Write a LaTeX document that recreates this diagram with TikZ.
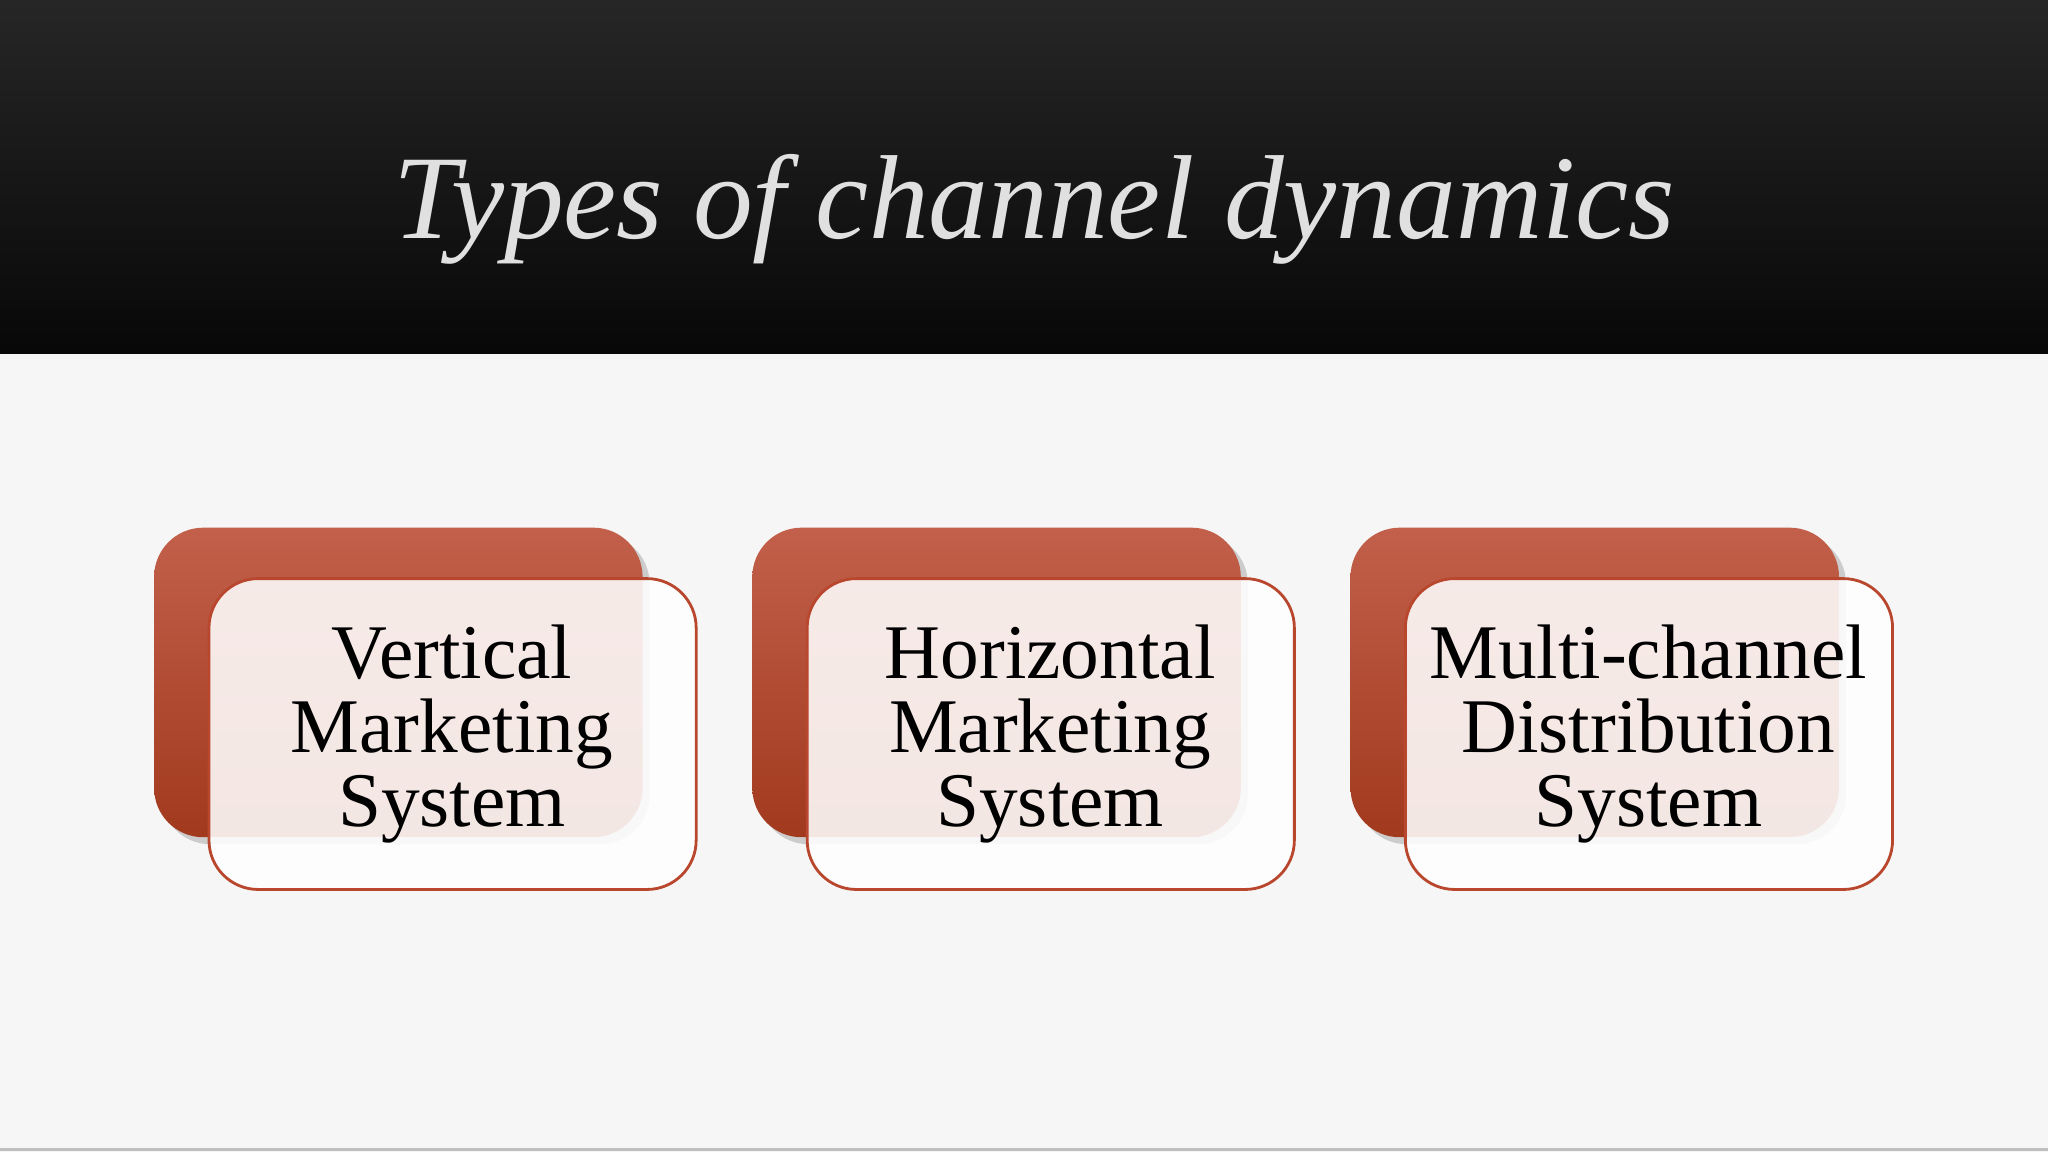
\documentclass[tikz,border=0pt]{standalone}
\usepackage{fontspec}
\setmainfont{Liberation Serif}
\usetikzlibrary{shadows}
\definecolor{bg}{HTML}{F6F6F6}
\definecolor{redtop}{HTML}{C2604B}
\definecolor{redbot}{HTML}{A1391D}
\definecolor{edge}{HTML}{B8472E}
\tikzset{
  backbox/.style={rounded corners=14pt, top color=redtop, bottom color=redbot, draw=none,
    drop shadow={shadow xshift=2pt, shadow yshift=-2pt, opacity=0.35}},
  frontbox/.style={rounded corners=14pt, fill=white, fill opacity=0.88, draw=edge, line width=0.8pt},
  label/.style={align=center, font=\fontsize{22}{21}\selectfont, text=black}
}
\begin{document}
\begin{tikzpicture}[x=0.013061cm, y=-0.013061cm]
\useasboundingbox (0,0) rectangle (1568,882);
\fill[bg] (0,0) rectangle (1568,882);
\shade[top color=black!85, bottom color=black!97] (0,0) rectangle (1568,271);
\draw[black!25, line width=1pt] (0,880) -- (1568,880);
\node (title) at (792,160) {\fontsize{34}{40}\selectfont\itshape\color{black!12}Types of channel dynamics};
\foreach \dx/\nm/\txt in {0/a/{Vertical\\Marketing\\System},458/b/{Horizontal\\Marketing\\System},916/c/{Multi-channel\\Distribution\\System}}{
  \begin{scope}[xshift=\dx*0.013061cm]
  \path[backbox] (118,404) rectangle (492,641);
  \path[frontbox] (160,443) rectangle (533,681);
  \node[label] (\nm) at (346,562) {\txt};
  \end{scope}
}
\end{tikzpicture}
\end{document}
